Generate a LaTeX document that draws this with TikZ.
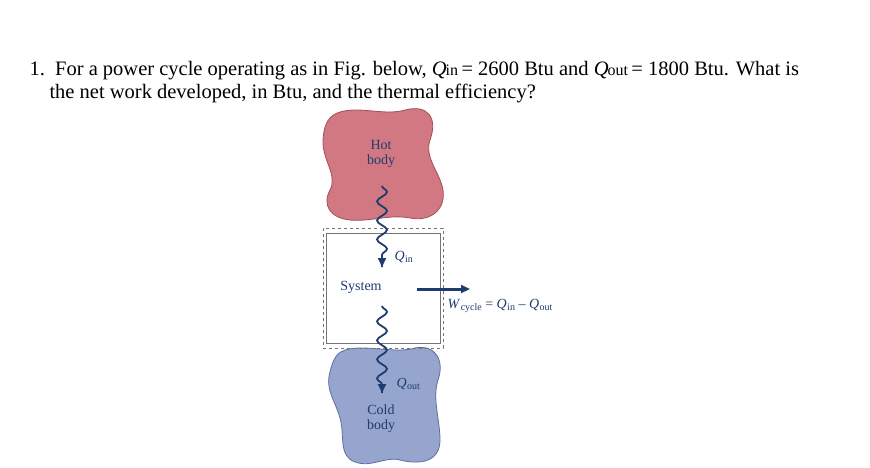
\documentclass[tikz,border=0pt]{standalone}
\usepackage{fontspec}
\setmainfont{Liberation Serif}
\usetikzlibrary{decorations.pathmorphing,arrows.meta}
\definecolor{hot}{RGB}{210,120,130}
\definecolor{hotd}{RGB}{160,80,90}
\definecolor{cold}{RGB}{150,165,205}
\definecolor{coldd}{RGB}{95,110,160}
\definecolor{ink}{RGB}{30,60,110}
\newcommand{\Qs}[1]{\textit{Q}\kern0.5pt\raisebox{-2pt}{\fontsize{10}{10}\selectfont #1}}
\begin{document}
\begin{tikzpicture}[x=1pt,y=-1pt,
  lbl/.style={text=ink,font=\fontsize{14}{15}\selectfont,align=center},
  wave/.style={draw=ink,line width=1.8pt,decorate,decoration={snake,amplitude=5pt,segment length=19pt,post length=8pt}},
  tip/.style={-{Triangle[length=9pt,width=8pt]}}]
\useasboundingbox (0,0) rectangle (870,468);
\node[anchor=west,font=\fontsize{20.5}{22}\selectfont] (t1) at (26,71) {1.\ \ For a power cycle operating as in Fig. below, \textit{Q}\kern-1pt{\fontsize{16}{16}\selectfont in}\,= 2600 Btu and \textit{Q}\kern-1pt{\fontsize{16}{16}\selectfont out}\,= 1800 Btu. What is};
\node[anchor=west,font=\fontsize{20.5}{22}\selectfont] (t2) at (46,93) {the net work developed, in Btu, and the thermal efficiency?};
% hot body
\path[fill=hot,draw=hotd,line width=0.8pt] (340,112) .. controls (360,106) and (385,116) .. (405,110)
  .. controls (428,104) and (438,118) .. (430,140) .. controls (424,158) and (440,172) .. (443,190)
  .. controls (446,210) and (430,222) .. (410,218) .. controls (390,214) and (370,222) .. (350,220)
  .. controls (330,218) and (322,205) .. (330,190) .. controls (338,175) and (322,160) .. (323,140)
  .. controls (324,122) and (330,115) .. (340,112) -- cycle;
% cold body
\path[fill=cold,draw=coldd,line width=0.8pt] (345,350) .. controls (365,344) and (395,354) .. (415,348)
  .. controls (435,344) and (445,360) .. (438,380) .. controls (432,398) and (440,420) .. (440,440)
  .. controls (440,462) and (420,465) .. (400,460) .. controls (385,456) and (372,468) .. (355,462)
  .. controls (338,456) and (345,435) .. (340,418) .. controls (335,400) and (325,390) .. (330,372)
  .. controls (333,358) and (338,352) .. (345,350) -- cycle;
% boxes
\node[draw=black!55,dashed,line width=0.8pt,minimum width=120pt,minimum height=120pt] (dash) at (383,288) {};
\node[draw=black!55,fill=white,line width=0.9pt,minimum width=114pt,minimum height=110pt] (sys) at (383,288) {};
\node[lbl] (hb) at (381,154) {Hot\\body};
\node[lbl] (cb) at (381,419) {Cold\\body};
\node[lbl] (st) at (361,287) {System};
\coordinate (w1) at (382,186);
\coordinate (w2) at (382,267);
\coordinate (c1) at (382,306);
\coordinate (c2) at (382,393);
\draw[wave] (w1) -- (w2);
\draw[ink,line width=1.8pt,tip] ([yshift=9pt]w2) -- (w2);
\draw[wave] (c1) -- (c2);
\draw[ink,line width=1.8pt,tip] ([yshift=9pt]c2) -- (c2);
\node[lbl,anchor=west] (qin) at (391,257) {\Qs{in}};
\node[lbl,anchor=west] (qout) at (393,384) {\Qs{out}};
\coordinate (a1) at (417,289);
\coordinate (a2) at (470,289);
\draw[ink,line width=3pt,tip] (a1) -- (a2);
\node[lbl,anchor=west] (wc) at (444,306) {\textit{W}\kern0.5pt\raisebox{-2pt}{\fontsize{10}{10}\selectfont cycle} = \Qs{in} -- \Qs{out}};
\end{tikzpicture}
\end{document}
